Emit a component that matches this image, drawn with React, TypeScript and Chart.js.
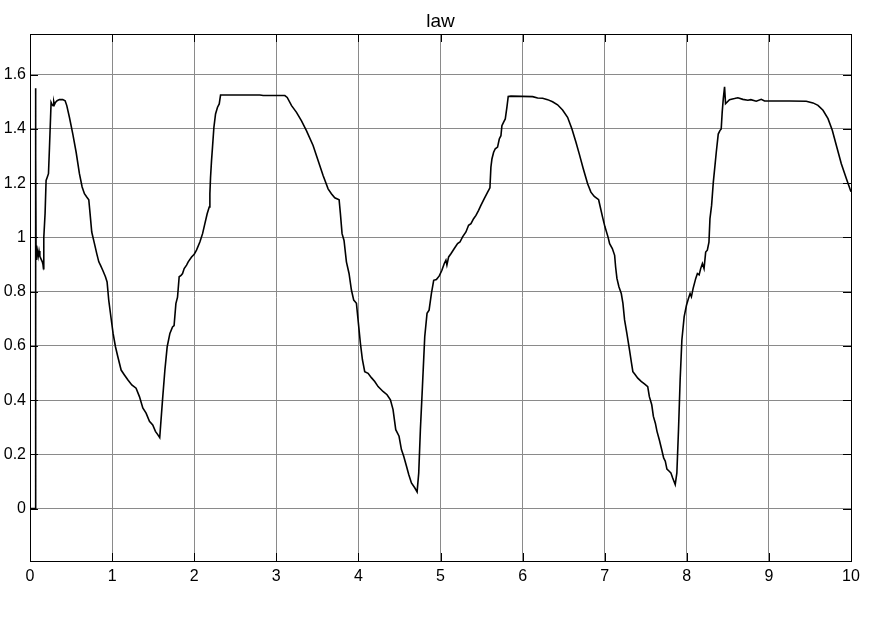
import React, { useEffect, useRef } from "react";
import { Chart, registerables } from "chart.js";

Chart.register(...registerables);

const chartTitle = "law";

const timeValues: number[] = [
  0, 0.066, 0.067, 0.069, 0.071, 0.074, 0.08, 0.09, 0.1, 0.11, 0.12, 0.135, 0.15, 0.158, 0.164, 0.168,
  0.184, 0.196, 0.208, 0.225, 0.237, 0.257, 0.269, 0.281, 0.29, 0.298, 0.31, 0.33, 0.358, 0.399, 0.428,
  0.448, 0.48, 0.521, 0.562, 0.602, 0.635, 0.663, 0.691, 0.716, 0.732, 0.752, 0.785, 0.813, 0.838, 0.858,
  0.886, 0.919, 0.939, 0.959, 0.988, 1.012, 1.041, 1.069, 1.11, 1.15, 1.191, 1.24, 1.292, 1.333, 1.374,
  1.414, 1.455, 1.495, 1.528, 1.556, 1.58, 1.614, 1.643, 1.671, 1.704, 1.736, 1.755, 1.777, 1.797, 1.817,
  1.84, 1.858, 1.878, 1.907, 1.927, 1.968, 2.0, 2.028, 2.069, 2.102, 2.13, 2.158, 2.183, 2.191, 2.199,
  2.211, 2.223, 2.24, 2.26, 2.284, 2.305, 2.321, 2.8, 2.84, 3.104, 3.133, 3.186, 3.246, 3.307, 3.367,
  3.448, 3.509, 3.57, 3.631, 3.671, 3.712, 3.765, 3.781, 3.801, 3.825, 3.854, 3.886, 3.915, 3.943, 3.976,
  3.996, 4.024, 4.049, 4.077, 4.118, 4.158, 4.199, 4.24, 4.3, 4.349, 4.39, 4.422, 4.455, 4.495, 4.524,
  4.552, 4.585, 4.613, 4.646, 4.686, 4.715, 4.735, 4.755, 4.78, 4.808, 4.836, 4.861, 4.889, 4.917, 4.95,
  4.985, 5.017, 5.046, 5.066, 5.078, 5.099, 5.127, 5.168, 5.208, 5.237, 5.269, 5.31, 5.342, 5.371, 5.403,
  5.432, 5.464, 5.492, 5.533, 5.574, 5.602, 5.614, 5.627, 5.647, 5.667, 5.695, 5.716, 5.736, 5.748, 5.769,
  5.789, 5.809, 5.825, 5.858, 6.122, 6.183, 6.244, 6.305, 6.365, 6.426, 6.487, 6.548, 6.601, 6.65, 6.69,
  6.739, 6.792, 6.832, 6.873, 6.926, 6.946, 6.974, 7.003, 7.04, 7.06, 7.093, 7.121, 7.133, 7.149, 7.173,
  7.202, 7.222, 7.242, 7.27, 7.302, 7.327, 7.343, 7.363, 7.403, 7.444, 7.484, 7.524, 7.544, 7.573, 7.593,
  7.617, 7.637, 7.665, 7.694, 7.718, 7.738, 7.758, 7.786, 7.806, 7.827, 7.859, 7.879, 7.899, 7.919, 7.94,
  7.968, 7.996, 8.02, 8.04, 8.056, 8.077, 8.109, 8.129, 8.15, 8.169, 8.19, 8.21, 8.23, 8.25, 8.27,
  8.282, 8.302, 8.323, 8.343, 8.359, 8.383, 8.403, 8.419, 8.431, 8.444, 8.46, 8.472, 8.52, 8.581, 8.622,
  8.683, 8.744, 8.78, 8.846, 8.907, 8.947, 9.252, 9.455, 9.537, 9.598, 9.659, 9.72, 9.772, 9.821, 9.882,
  9.943, 10.0,
];

const lawValues: number[] = [
  0, 0, 1.55, 0.6, 1.3, 0.92, 0.97, 0.95, 0.93, 0.95, 0.93, 0.92, 0.91, 0.9, 0.885, 1.0,
  1.09, 1.21, 1.22, 1.235, 1.33, 1.498, 1.49, 1.486, 1.5, 1.49, 1.498, 1.504, 1.508, 1.508, 1.504,
  1.486, 1.443, 1.382, 1.314, 1.235, 1.186, 1.161, 1.149, 1.139, 1.087, 1.02, 0.977, 0.94, 0.91, 0.898,
  0.879, 0.855, 0.836, 0.769, 0.701, 0.646, 0.597, 0.561, 0.511, 0.493, 0.475, 0.456, 0.444, 0.413, 0.371,
  0.352, 0.322, 0.309, 0.285, 0.273, 0.262, 0.4, 0.511, 0.597, 0.646, 0.67, 0.675, 0.756, 0.78, 0.855,
  0.86, 0.867, 0.885, 0.898, 0.91, 0.928, 0.938, 0.953, 0.983, 1.014, 1.051, 1.087, 1.112, 1.161, 1.222,
  1.283, 1.333, 1.406, 1.455, 1.48, 1.492, 1.525, 1.525, 1.523, 1.523, 1.516, 1.486, 1.461, 1.43, 1.394,
  1.339, 1.284, 1.228, 1.179, 1.161, 1.146, 1.139, 1.087, 1.014, 0.989, 0.91, 0.867, 0.806, 0.769, 0.757,
  0.696, 0.61, 0.549, 0.505, 0.499, 0.483, 0.469, 0.45, 0.432, 0.42, 0.401, 0.365, 0.291, 0.267, 0.218,
  0.193, 0.157, 0.126, 0.095, 0.077, 0.062, 0.132, 0.291, 0.45, 0.634, 0.72, 0.732, 0.793, 0.842, 0.845,
  0.858, 0.879, 0.904, 0.916, 0.898, 0.928, 0.94, 0.959, 0.977, 0.983, 1.002, 1.02, 1.045, 1.051, 1.069,
  1.081, 1.1, 1.118, 1.143, 1.167, 1.183, 1.259, 1.29, 1.314, 1.327, 1.333, 1.363, 1.375, 1.412, 1.425,
  1.437, 1.48, 1.52, 1.521, 1.519, 1.514, 1.513, 1.508, 1.5, 1.489, 1.47, 1.443, 1.4, 1.351, 1.308,
  1.253, 1.198, 1.167, 1.151, 1.139, 1.112, 1.075, 1.039, 1.002, 0.977, 0.959, 0.934, 0.891, 0.849, 0.818,
  0.793, 0.757, 0.696, 0.646, 0.585, 0.536, 0.505, 0.497, 0.481, 0.469, 0.46, 0.45, 0.413, 0.383, 0.34,
  0.315, 0.285, 0.254, 0.218, 0.187, 0.175, 0.146, 0.138, 0.132, 0.114, 0.089, 0.132, 0.291, 0.475, 0.622,
  0.708, 0.75, 0.775, 0.793, 0.781, 0.812, 0.849, 0.867, 0.862, 0.885, 0.904, 0.885, 0.946, 0.953, 0.983,
  1.069, 1.118, 1.204, 1.265, 1.314, 1.381, 1.394, 1.4, 1.461, 1.51, 1.555, 1.493, 1.508, 1.512, 1.515,
  1.509, 1.506, 1.508, 1.502, 1.509, 1.503, 1.503, 1.502, 1.496, 1.487, 1.469, 1.438, 1.395, 1.34, 1.272,
  1.217, 1.168,
];

const xTickValues: number[] = [0, 1, 2, 3, 4, 5, 6, 7, 8, 9, 10];
const yTickValues: number[] = [0, 0.2, 0.4, 0.6, 0.8, 1, 1.2, 1.4, 1.6];
const xRange: number[] = [0, 10];
const yRange: number[] = [-0.193, 1.75];

const FONT = "'Liberation Sans', Arial, Helvetica, sans-serif";

const frameTicksPlugin = {
  id: "frameTicks",
  afterDraw(chart: any) {
    const { ctx, chartArea } = chart;
    const { left, right, top, bottom } = chartArea;
    const xs = chart.scales.x;
    const ys = chart.scales.y;
    const len = 8;
    ctx.save();
    ctx.strokeStyle = "#000000";
    ctx.lineWidth = 1;
    ctx.beginPath();
    ctx.rect(Math.round(left) + 0.5, Math.round(top) + 0.5, Math.round(right - left), Math.round(bottom - top));
    for (const v of xTickValues) {
      const px = Math.round(xs.getPixelForValue(v)) + 0.5;
      ctx.moveTo(px, bottom);
      ctx.lineTo(px, bottom - len);
      ctx.moveTo(px, top);
      ctx.lineTo(px, top + len);
    }
    for (const v of yTickValues) {
      const py = Math.round(ys.getPixelForValue(v)) + 0.5;
      ctx.moveTo(left, py);
      ctx.lineTo(left + len, py);
      ctx.moveTo(right, py);
      ctx.lineTo(right - len, py);
    }
    ctx.stroke();
    // title centred over the plot area
    ctx.fillStyle = "#000000";
    ctx.font = `normal 19px ${FONT}`;
    ctx.textAlign = "center";
    ctx.textBaseline = "alphabetic";
    ctx.fillText(chartTitle, (left + right) / 2, 27);
    ctx.restore();
  },
};

export default function App() {
  const canvasRef = useRef<HTMLCanvasElement | null>(null);

  useEffect(() => {
    if (!canvasRef.current) return;
    const points = timeValues.map((t, i) => ({ x: t, y: lawValues[i] }));
    const chart = new Chart(canvasRef.current, {
      type: "line",
      data: {
        datasets: [
          {
            label: chartTitle,
            data: points,
            borderColor: "#000000",
            borderWidth: 1.6,
            pointRadius: 0,
            tension: 0,
            fill: false,
          },
        ],
      },
      options: {
        responsive: false,
        animation: false,
        events: [],
        layout: { padding: { left: 0, right: 24, top: 34, bottom: 0 } },
        plugins: {
          legend: { display: false },
          tooltip: { enabled: false },
          title: { display: false },
        },
        scales: {
          x: {
            type: "linear",
            min: xRange[0],
            max: xRange[1],
            afterBuildTicks: (scale: any) => {
              scale.ticks = xTickValues.map((v) => ({ value: v }));
            },
            afterFit: (scale: any) => {
              scale.height = 58;
            },
            ticks: {
              color: "#000000",
              font: { family: FONT, size: 16 },
              padding: 6,
              maxRotation: 0,
              autoSkip: false,
              callback: (v: any) => String(v),
            },
            grid: { color: "#8a8a8a", lineWidth: 1, drawTicks: false },
            border: { display: true, color: "#000000", width: 1 },
          },
          y: {
            type: "linear",
            min: yRange[0],
            max: yRange[1],
            afterBuildTicks: (scale: any) => {
              scale.ticks = yTickValues.map((v) => ({ value: v }));
            },
            afterFit: (scale: any) => {
              scale.width = 30;
            },
            ticks: {
              color: "#000000",
              font: { family: FONT, size: 16 },
              padding: 4,
              autoSkip: false,
              callback: (v: any) => String(Number(Number(v).toFixed(1))),
            },
            grid: { color: "#8a8a8a", lineWidth: 1, drawTicks: false },
            border: { display: true, color: "#000000", width: 1 },
          },
        },
      },
      plugins: [frameTicksPlugin],
    });
    return () => chart.destroy();
  }, []);

  return (
    <div style={{ position: "fixed", left: 0, top: 0, width: 875, height: 619, background: "#ffffff" }}>
      <canvas ref={canvasRef} width={875} height={619} style={{ display: "block" }} />
    </div>
  );
}
